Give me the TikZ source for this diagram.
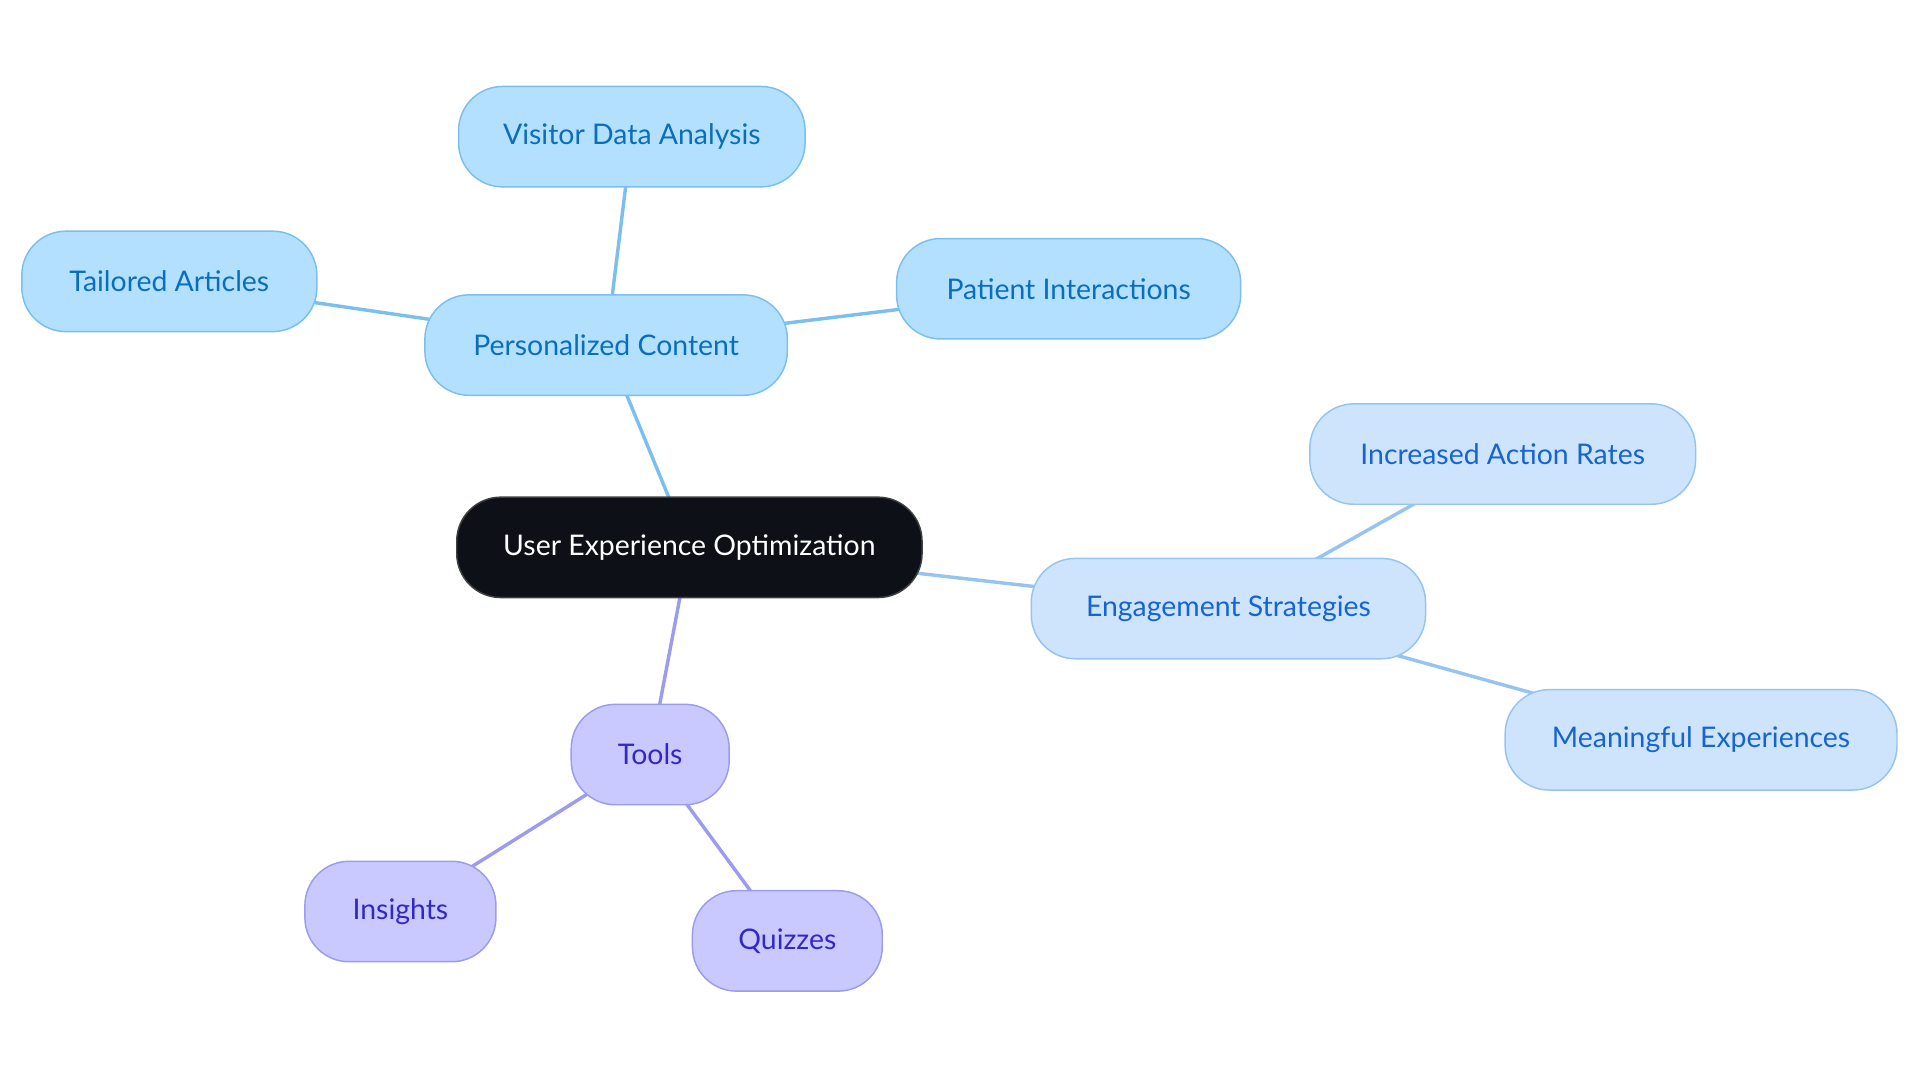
\documentclass[tikz,border=0pt]{standalone}
\usepackage{fontspec}
\setmainfont{Lato}
\usepackage{tikz}
\usetikzlibrary{positioning,backgrounds}
\definecolor{rootfill}{RGB}{13, 17, 23}
\definecolor{pcfill}{RGB}{179, 224, 255}
\definecolor{pcline}{RGB}{122, 191, 240}
\definecolor{pctext}{RGB}{10, 110, 190}
\definecolor{esfill}{RGB}{206, 228, 252}
\definecolor{esline}{RGB}{150, 195, 240}
\definecolor{estext}{RGB}{22, 100, 210}
\definecolor{tlfill}{RGB}{201, 201, 255}
\definecolor{tlline}{RGB}{155, 155, 240}
\definecolor{tltext}{RGB}{50, 40, 200}
\tikzstyle{box} = [rectangle, rounded corners=36pt, minimum height=82pt, inner xsep=30pt, line width=1.2pt, font=\fontsize{23.2}{27}\selectfont]
\tikzstyle{rootbox} = [box, draw=black!75, fill=rootfill, text=white]
\tikzstyle{pcbox} = [box, draw=pcline, fill=pcfill, text=pctext]
\tikzstyle{esbox} = [box, draw=esline, fill=esfill, text=estext]
\tikzstyle{tlbox} = [box, draw=tlline, fill=tlfill, text=tltext]
\tikzstyle{pcedge} = [draw=pcline, line width=2.8pt]
\tikzstyle{esedge} = [draw=esline, line width=2.8pt]
\tikzstyle{tledge} = [draw=tlline, line width=2.8pt]

\begin{document}
\begin{tikzpicture}
\useasboundingbox (0,0) rectangle (1568pt,-884pt);

% nodes =============================
\node[rootbox, minimum width=380pt] (uxo) at (563pt,-447pt) {User Experience Optimization};
\node[pcbox, minimum width=296pt, above=82pt of uxo, xshift=-68pt] (pc) {Personalized Content};
\node[pcbox, minimum width=283pt, above=87pt of pc, xshift=21pt] (vda) {Visitor Data Analysis};
\node[pcbox, minimum width=241pt, left=87pt of pc, yshift=52pt] (ta) {Tailored Articles};
\node[pcbox, minimum width=281pt, right=88pt of pc, yshift=46pt] (pi) {Patient Interactions};
\node[esbox, minimum width=322pt, right=88pt of uxo, yshift=-50pt] (es) {Engagement Strategies};
\node[esbox, minimum width=315pt, above=43pt of es, xshift=224pt] (iar) {Increased Action Rates};
\node[esbox, minimum width=320pt, below=24pt of es, xshift=386pt] (me) {Meaningful Experiences};
\node[tlbox, minimum width=129pt, below=86pt of uxo, xshift=-32pt] (tools) {Tools};
\node[tlbox, minimum width=156pt, below=45pt of tools, xshift=-204pt] (ins) {Insights};
\node[tlbox, minimum width=155pt, below=69pt of tools, xshift=112pt] (qz) {Quizzes};

% edges
\begin{scope}[on background layer]
\path[pcedge] (uxo.center) -- (pc.center);
\path[pcedge] (pc.center) -- (vda.center);
\path[pcedge] (pc.center) -- (ta.center);
\path[pcedge] (pc.center) -- (pi.center);
\path[esedge] (uxo.center) -- (es.center);
\path[esedge] (es.center) -- (iar.center);
\path[esedge] (es.center) -- (me.center);
\path[tledge] (uxo.center) -- (tools.center);
\path[tledge] (tools.center) -- (ins.center);
\path[tledge] (tools.center) -- (qz.center);
\end{scope}

\end{tikzpicture}
\end{document}
